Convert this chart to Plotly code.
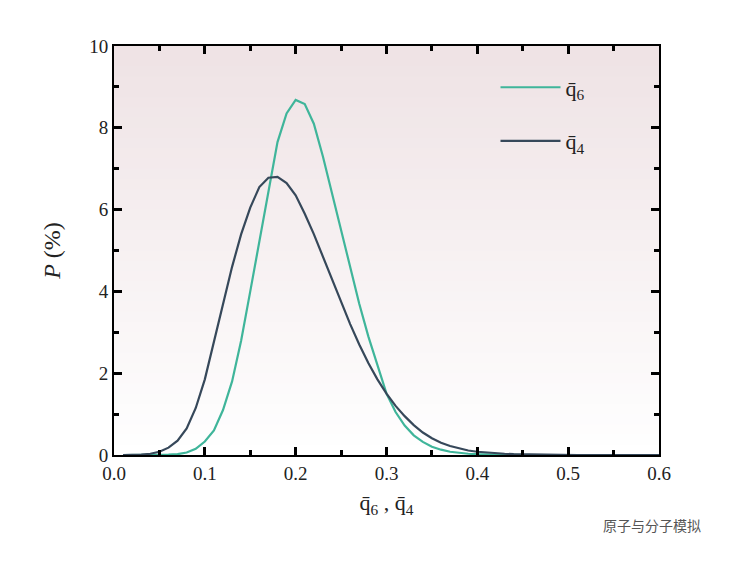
import plotly.graph_objects as go

x = [round(0.01 * i, 2) for i in range(1, 61)]
q6 = [0, 0, 0, 0, 0, 0.01, 0.02, 0.06, 0.15, 0.33, 0.6, 1.1, 1.8, 2.8, 4.0, 5.2, 6.5, 7.65, 8.35, 8.68,
      8.58, 8.1, 7.3, 6.4, 5.5, 4.6, 3.7, 2.9, 2.2, 1.5, 1.05, 0.72, 0.48, 0.32, 0.2, 0.13, 0.08, 0.05, 0.03, 0.02,
      0.01, 0.01, 0.01, 0, 0, 0, 0, 0, 0, 0, 0, 0, 0, 0, 0, 0, 0, 0, 0, 0]
q4 = [0, 0, 0.01, 0.03, 0.08, 0.18, 0.35, 0.65, 1.15, 1.85, 2.75, 3.7, 4.6, 5.4, 6.05, 6.55, 6.78, 6.8, 6.65, 6.35,
      5.9, 5.4, 4.85, 4.3, 3.75, 3.2, 2.7, 2.25, 1.85, 1.5, 1.2, 0.95, 0.73, 0.55, 0.41, 0.3, 0.22, 0.16, 0.11, 0.08,
      0.06, 0.04, 0.03, 0.02, 0.015, 0.01, 0.01, 0.01, 0.01, 0, 0, 0, 0, 0, 0, 0, 0, 0, 0, 0]
xticks = [0.0, 0.1, 0.2, 0.3, 0.4, 0.5, 0.6]
yticks = [0, 2, 4, 6, 8, 10]

FONT = "Liberation Serif"
fig = go.Figure()
fig.add_trace(go.Scatter(x=x, y=q6, mode="lines", name="q̄<sub>6</sub>", legendgroup="a",
                         line=dict(color="#3fb59a", width=2.2)))
fig.add_trace(go.Scatter(x=x, y=q4, mode="lines", name="q̄<sub>4</sub>", legendgroup="b",
                         line=dict(color="#36485a", width=2.2)))

n = 40
top = (239, 227, 229)
bot = (255, 255, 255)
for i in range(n):
    t = i / (n - 1)
    c = tuple(int(bot[k] + (top[k] - bot[k]) * t) for k in range(3))
    fig.add_shape(type="rect", xref="x domain", yref="y domain", x0=0, x1=1, y0=i / n, y1=(i + 1) / n + 0.002,
                  fillcolor="rgb(%d,%d,%d)" % c, line=dict(width=0), layer="below")

axcommon = dict(showgrid=False, zeroline=False, showline=True, linecolor="black", linewidth=2, mirror="allticks",
                ticks="inside", ticklen=8, tickwidth=3, tickcolor="black",
                tickfont=dict(family=FONT, size=19, color="#222"))
fig.update_xaxes(range=[0, 0.6], tickvals=xticks, ticktext=["%.1f" % v for v in xticks],
                 minor=dict(dtick=0.05, ticks="inside", ticklen=5, tickwidth=2.5, tickcolor="black"),
                 title=dict(text="q̄<sub>6</sub> , q̄<sub>4</sub>", font=dict(family=FONT, size=22, color="#222"), standoff=12),
                 **axcommon)
fig.update_yaxes(range=[0, 10], tickvals=yticks,
                 minor=dict(dtick=1, ticks="inside", ticklen=5, tickwidth=2.5, tickcolor="black"),
                 title=dict(text="<i>P</i> (%)", font=dict(family=FONT, size=24, color="#222"), standoff=22),
                 **axcommon)
fig.update_layout(width=748, height=562, paper_bgcolor="white", plot_bgcolor="white",
                  margin=dict(l=106, r=97, t=38, b=115), showlegend=True,
                  legend=dict(x=0.7, y=0.95, xanchor="left", yanchor="top", bgcolor="rgba(0,0,0,0)",
                              font=dict(family=FONT, size=22, color="#222"), itemwidth=60, tracegroupgap=22))
fig.add_annotation(text="原子与分子模拟", xref="paper", yref="paper", x=1.08, y=-0.2, xanchor="right",
                   showarrow=False, font=dict(family="Noto Sans CJK SC", size=14, color="#555"))
fig.write_html("out.html")
